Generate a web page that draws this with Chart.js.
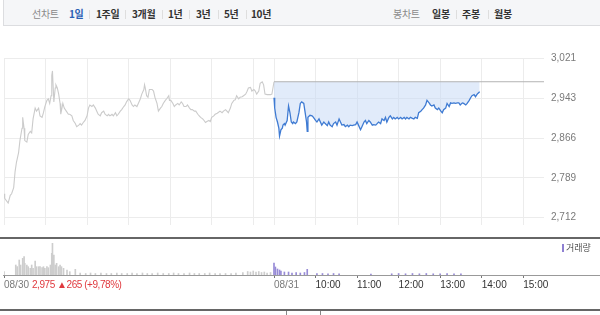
<!DOCTYPE html>
<html><head><meta charset="utf-8">
<script src="https://cdn.jsdelivr.net/npm/chart.js@4.4.1/dist/chart.umd.min.js"></script>
<style>
html,body{margin:0;padding:0;background:#fff;width:600px;height:315px;overflow:hidden;font-family:"Noto Sans CJK KR","Noto Sans",sans-serif;}
#wrap{position:relative;width:600px;height:315px;}
.abs{position:absolute;white-space:nowrap;}
#topbar{position:absolute;left:3px;top:-1px;width:600px;height:27px;background:#f5f6f8;border:1px solid #dcdde0;box-sizing:border-box;}
.tb{position:absolute;top:7px;font-size:10px;line-height:14px;font-weight:bold;color:#333;letter-spacing:-0.3px;}
.tb.g{color:#8a8a8a;font-weight:normal;}
.tb.b{color:#2b5fb4;}
.sep{position:absolute;top:10px;width:1px;height:9px;background:#dedede;}
.hl{position:absolute;left:0;width:600px;background:#666;}
#c1{position:absolute;left:0;top:0;}
#c2{position:absolute;left:0;top:238px;}
</style></head>
<body><div id="wrap">
<canvas id="c1" width="600" height="238"></canvas>
<canvas id="c2" width="600" height="57"></canvas>
<div id="topbar"></div>
<div class="tb g" style="left:32px">선차트</div>
<div class="tb b" style="left:69px">1일</div>
<div class="sep" style="left:89px"></div>
<div class="tb" style="left:96px">1주일</div>
<div class="sep" style="left:125px"></div>
<div class="tb" style="left:132px">3개월</div>
<div class="sep" style="left:162px"></div>
<div class="tb" style="left:168px">1년</div>
<div class="sep" style="left:189px"></div>
<div class="tb" style="left:196px">3년</div>
<div class="sep" style="left:218px"></div>
<div class="tb" style="left:224px">5년</div>
<div class="sep" style="left:246px"></div>
<div class="tb" style="left:251px">10년</div>
<div class="tb g" style="left:393px">봉차트</div>
<div class="tb" style="left:432px">일봉</div>
<div class="sep" style="left:456px"></div>
<div class="tb" style="left:462px">주봉</div>
<div class="sep" style="left:488px"></div>
<div class="tb" style="left:494px">월봉</div>
<div class="hl" style="top:237px;height:2px;"></div>
<div class="hl" style="top:275px;height:1px;left:3px;background:#999;"></div>
<div class="hl" style="top:309px;height:2px;"></div>
<div class="abs" style="left:562px;top:244px;width:2px;height:8px;background:#8e80d2;"></div>
<div class="abs" style="left:566px;top:242px;font-size:9px;line-height:12px;color:#555;">거래량</div>
<div class="abs" id="closeTxt" style="left:32px;top:278px;font-size:10px;line-height:14px;color:#e0393e;letter-spacing:-0.45px;font-family:'Liberation Sans',Arial,sans-serif;">2,975 ▲265 (+9,78%)</div>
<div class="abs" style="left:286px;top:311px;width:1px;height:4px;background:#888;"></div>
<div class="abs" style="left:320px;top:311px;width:1px;height:4px;background:#888;"></div>
</div>
<script>
// ---- data ----
const yTickValues = [2712, 2789, 2866, 2943, 3021];
const yTickLabels = ['2,712', '2,789', '2,866', '2,943', '3,021'];
const prevClose = 2975;
const gridMinutes = [0, 60, 120, 180, 240, 300, 360, 390, 450, 510, 570, 630, 690, 750];
const xTickMinutes = [0, 390, 450, 510, 570, 630, 690, 750];
const xTickLabels = ['08/30', '08/31', '10:00', '11:00', '12:00', '13:00', '14:00', '15:00'];

const day1Minutes = [0,1,6,9,11,14,16,18,21,23,26,27,29,30,33,35,38,40,42,45,47,50,52,55,57,59,62,64,66,68,69,70,72,74,75,77,79,81,82,85,87,90,93,95,98,100,103,105,108,110,112,115,117,120,122,124,127,129,132,134,136,139,141,144,146,149,151,153,156,158,161,163,165,168,170,173,175,177,180,182,185,187,189,192,194,197,199,202,203,204,206,208,210,214,216,218,221,223,226,228,230,233,235,238,239,241,244,246,248,251,253,256,258,260,263,265,268,270,272,275,277,280,282,284,287,289,291,293,296,298,300,303,305,308,310,312,315,317,320,322,324,327,329,332,334,336,339,341,344,346,349,351,353,356,358,361,363,365,368,370,373,375,377,380,385,387,390];
const day1Prices = [2758,2749,2740,2755,2758,2770,2801,2819,2837,2861,2885,2906,2885,2861,2858,2873,2879,2876,2903,2924,2918,2924,2909,2906,2915,2927,2939,2942,2933,2948,2987,2996,2936,2963,2969,2963,2951,2933,2912,2933,2924,2918,2912,2912,2909,2900,2894,2888,2891,2894,2891,2897,2900,2909,2924,2930,2927,2930,2924,2918,2912,2909,2915,2918,2912,2909,2912,2909,2912,2909,2915,2909,2912,2918,2921,2927,2930,2936,2942,2939,2930,2927,2930,2927,2933,2942,2951,2960,2969,2963,2948,2945,2960,2960,2957,2945,2933,2918,2924,2927,2933,2939,2942,2948,2939,2939,2933,2927,2930,2933,2930,2936,2933,2927,2927,2930,2924,2921,2921,2918,2918,2912,2909,2906,2903,2900,2896,2898,2900,2898,2906,2909,2912,2914,2916,2918,2915,2918,2921,2918,2915,2924,2933,2939,2940,2948,2942,2945,2946,2948,2951,2956,2963,2964,2957,2960,2957,2951,2957,2972,2975,2969,2951,2950,2950,2951,2975];

const day2Minutes = [390,391,393,395,397,398,400,402,403,405,406,409,411,413,415,417,418,421,423,426,428,430,433,435,437,438,439,442,445,447,450,452,455,457,459,462,464,467,469,471,474,476,479,481,484,486,488,491,493,496,498,500,503,505,508,510,512,515,517,520,522,524,527,529,532,534,537,539,541,544,546,549,551,553,556,558,561,563,565,568,570,573,575,578,580,582,585,587,590,592,594,597,599,602,604,606,609,611,614,616,618,621,623,626,628,631,633,635,638,640,643,645,647,650,652,655,657,659,662,664,667,669,672,674,676,679,681,684,686,687];
const day2Prices = [2944,2924,2906,2897,2885,2870,2882,2885,2891,2894,2891,2900,2928,2915,2897,2894,2897,2894,2897,2915,2933,2936,2933,2915,2897,2879,2906,2910,2909,2906,2900,2897,2903,2897,2891,2897,2894,2890,2897,2891,2888,2894,2897,2891,2903,2897,2891,2892,2888,2891,2888,2891,2890,2891,2892,2897,2891,2882,2888,2897,2900,2894,2900,2897,2891,2892,2891,2894,2897,2894,2903,2900,2906,2897,2906,2909,2903,2906,2903,2906,2903,2906,2903,2906,2903,2906,2903,2906,2904,2903,2906,2904,2915,2918,2921,2924,2930,2939,2934,2930,2928,2930,2924,2921,2924,2918,2915,2921,2924,2933,2927,2934,2933,2934,2933,2934,2934,2930,2934,2933,2930,2933,2939,2944,2948,2950,2946,2952,2954,2956];

const vol1Minutes = [0,17,19,22,24,27,29,30,33,35,38,40,42,45,47,50,52,55,57,59,62,64,67,69,70,72,74,76,79,81,83,86,91,95,103,110,118,125,132,140,148,155,163,170,178,185,192,200,207,214,222,230,238,245,252,260,268,275,282,290,297,305,312,320,328,335,345,352,356,360,364,368,372,376,380,385];
const vol1Values = [33,100,83,150,100,167,183,117,100,83,67,100,67,140,83,83,83,73,83,67,83,73,100,217,317,200,100,117,83,100,83,67,50,33,57,20,15,20,15,20,15,15,20,15,15,20,15,20,15,15,20,15,15,20,15,15,20,15,15,15,20,15,15,15,15,20,25,35,30,40,30,35,25,30,20,25];
const vol2Minutes = [390,392,395,398,400,405,411,416,422,428,434,438,452,460,468,476,484,530,560,570,580,590,600,610,620,630,640,650,660];
const vol2Values = [120,80,60,50,40,30,30,20,25,20,25,57,15,15,12,15,12,10,12,15,12,15,12,15,12,12,15,12,12];

// ---- build ----
const pts = (xs, ys) => xs.map((x, i) => ({x: x, y: ys[i]}));
const gridColor = '#ececec';

new Chart(document.getElementById('c1'), {
  type: 'line',
  data: {
    datasets: [
      {data: pts(day1Minutes, day1Prices), borderColor: '#cbcbcb', borderWidth: 1.1, pointRadius: 0, fill: false, tension: 0},
      {data: pts([390, 780], [prevClose, prevClose]), borderColor: '#b4b4b4', borderWidth: 1, pointRadius: 0, fill: false},
      {data: pts(day2Minutes, day2Prices), borderColor: '#3f7bd3', borderWidth: 1.3, pointRadius: 0, tension: 0,
       fill: {value: prevClose}, backgroundColor: 'rgba(196,216,245,0.5)'}
    ]
  },
  options: {
    responsive: false, animation: false, events: [],
    layout: {padding: {left: 4, top: 58, right: 0, bottom: 1}},
    plugins: {legend: {display: false}, tooltip: {enabled: false}},
    scales: {
      x: {type: 'linear', min: 0, max: 780,
        afterBuildTicks: s => { s.ticks = gridMinutes.map(v => ({value: v})); },
        afterFit: s => { s.height = 0; },
        ticks: {display: false}, border: {display: false},
        grid: {color: gridColor, drawTicks: false}},
      y: {type: 'linear', position: 'right', min: 2697.5, max: 3021,
        afterBuildTicks: s => { s.ticks = yTickValues.map(v => ({value: v})); },
        afterFit: s => { s.width = 56; },
        ticks: {padding: 7, color: '#7a7a7a', font: {size: 10, family: 'Liberation Sans'},
          callback: (v) => { const i = yTickValues.indexOf(v); return i >= 0 ? yTickLabels[i] : ''; }},
        border: {display: false},
        grid: {color: gridColor, drawTicks: false}}
    }
  }
});

new Chart(document.getElementById('c2'), {
  type: 'bar',
  data: {
    datasets: [
      {data: pts(vol1Minutes, vol1Values), backgroundColor: '#cdcdcd', barThickness: 1, grouped: false},
      {data: pts(vol2Minutes, vol2Values), backgroundColor: '#978bd6', barThickness: 1, grouped: false}
    ]
  },
  options: {
    responsive: false, animation: false, events: [],
    layout: {padding: {left: 4, top: 0, right: 56, bottom: 0}},
    plugins: {legend: {display: false}, tooltip: {enabled: false}},
    scales: {
      x: {type: 'linear', min: 0, max: 780, offset: false,
        afterBuildTicks: s => { s.ticks = xTickMinutes.map(v => ({value: v})); },
        afterFit: s => { s.height = 20; },
        ticks: {align: 'start', padding: 1, maxRotation: 0, autoSkip: false,
          font: {size: 10, family: 'Liberation Sans'},
          color: (ctx) => ctx.index < 2 ? '#7a7a7a' : '#333',
          callback: (v) => { const i = xTickMinutes.indexOf(v); return i >= 0 ? xTickLabels[i] : ''; }},
        border: {display: false},
        grid: {drawOnChartArea: false, drawTicks: true, tickLength: 3, color: '#777', offset: false}},
      y: {display: false, min: 0, max: 370}
    }
  }
});
</script>
</body></html>
